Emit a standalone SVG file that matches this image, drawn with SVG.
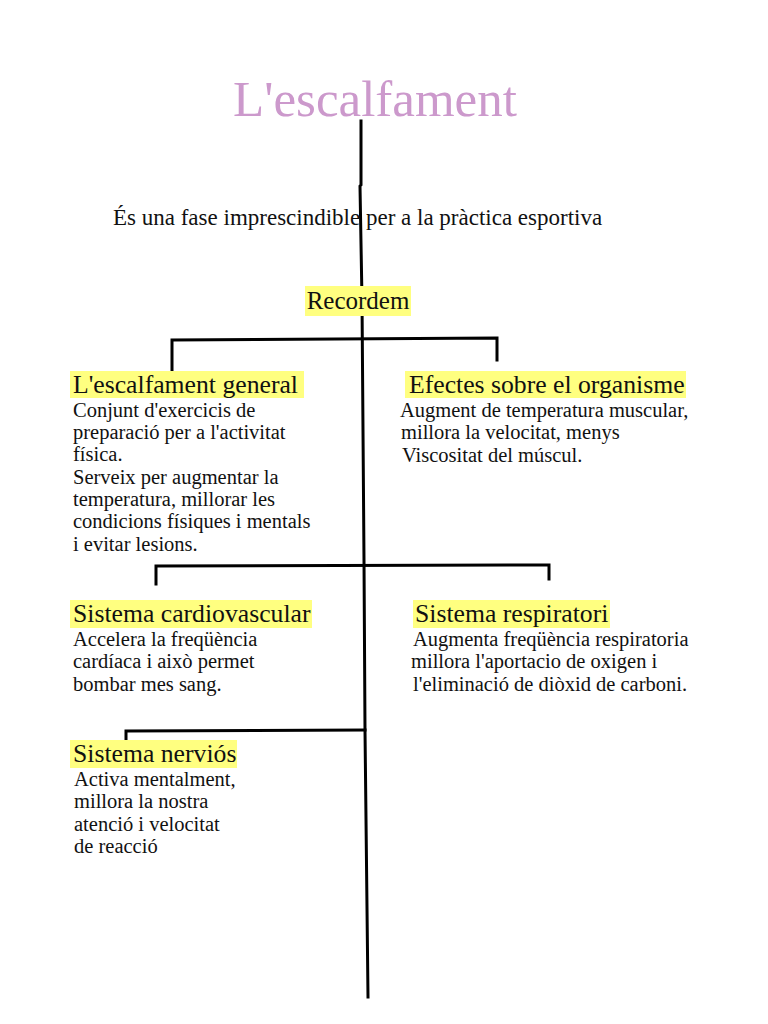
<svg xmlns="http://www.w3.org/2000/svg" width="768" height="1024" viewBox="0 0 768 1024">
<style>
text{font-family:"Liberation Serif","Times New Roman",serif;fill:#111}
.title{font-size:51px;fill:#cc99cc}
.head{font-size:25.7px}
.body{font-size:20.5px}
.hl{fill:#ffff80}
.ln{stroke:#000;stroke-width:3;fill:none;stroke-linecap:square}
</style>
<rect width="768" height="1024" fill="#fff"/>
<g id="connectors">
<path class="ln" d="M361 121 L361 185 L360 186 L362 300 L364 560 L365 730 L368 997"/>
<path class="ln" d="M172 370 L172 340 L497 338 L497 360"/>
<path class="ln" d="M156 584 L156 566 L549 565 L549 579"/>
<path class="ln" d="M126 743 L126 731 L365 730"/>
</g>
<g id="title"><text class="title" x="375" y="116" text-anchor="middle">L'escalfament</text></g>
<g id="intro"><text x="113" y="225" style="font-size:23px">És una fase imprescindible per a la pràctica esportiva</text></g>
<g id="recordem"><rect class="hl" x="305" y="286" width="106" height="30"/><text class="head" x="358" y="309" text-anchor="middle" style="font-size:25px">Recordem</text></g>
<g id="general">
<rect class="hl" x="70" y="371" width="234" height="27"/>
<text class="head" x="73" y="393">L'escalfament general</text>
<text class="body"><tspan x="73" y="417">Conjunt d'exercicis de</tspan><tspan x="73" y="439">preparació per a l'activitat</tspan><tspan x="73" y="461">física.</tspan><tspan x="73" y="484">Serveix per augmentar la</tspan><tspan x="73" y="506">temperatura, millorar les</tspan><tspan x="73" y="528">condicions físiques i mentals</tspan><tspan x="73" y="551">i evitar lesions.</tspan></text>
</g>
<g id="efectes">
<rect class="hl" x="405" y="371" width="281" height="27"/>
<text class="head" x="409" y="393">Efectes sobre el organisme</text>
<text class="body"><tspan x="400" y="417">Augment de temperatura muscular,</tspan><tspan x="401" y="439">millora la velocitat, menys</tspan><tspan x="402" y="462">Viscositat del múscul.</tspan></text>
</g>
<g id="cardio">
<rect class="hl" x="70" y="600" width="242" height="28"/>
<text class="head" x="73" y="622">Sistema cardiovascular</text>
<text class="body"><tspan x="73" y="646">Accelera la freqüència</tspan><tspan x="73" y="668">cardíaca i això permet</tspan><tspan x="73" y="691">bombar mes sang.</tspan></text>
</g>
<g id="respiratori">
<rect class="hl" x="413" y="600" width="197" height="28"/>
<text class="head" x="415" y="622">Sistema respiratori</text>
<text class="body"><tspan x="413" y="646">Augmenta freqüència respiratoria</tspan><tspan x="411" y="668">millora l'aportacio de oxigen i</tspan><tspan x="413" y="691">l'eliminació de diòxid de carboni.</tspan></text>
</g>
<g id="nervios">
<rect class="hl" x="70" y="740" width="167" height="28"/>
<text class="head" x="73" y="762">Sistema nerviós</text>
<text class="body"><tspan x="74" y="786">Activa mentalment,</tspan><tspan x="74" y="808">millora la nostra</tspan><tspan x="74" y="831">atenció i velocitat</tspan><tspan x="74" y="853">de reacció</tspan></text>
</g>
</svg>
